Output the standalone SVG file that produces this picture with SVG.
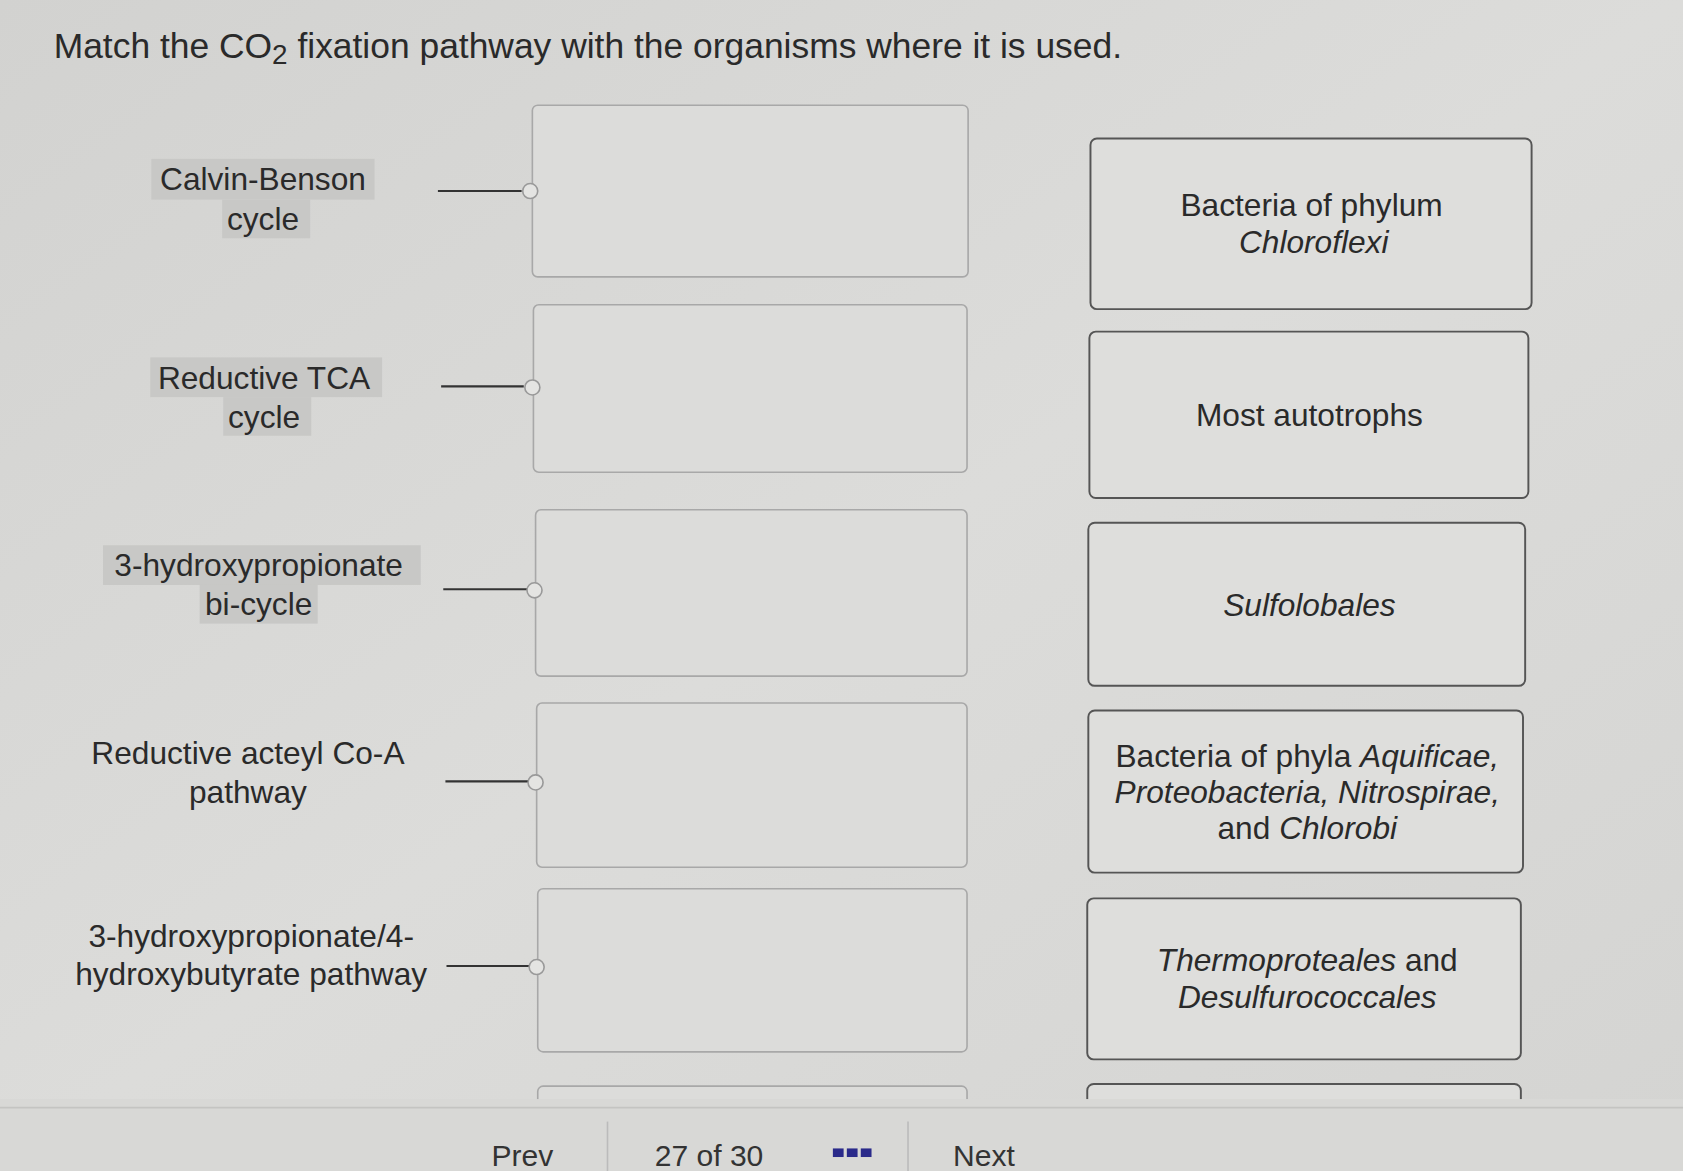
<svg xmlns="http://www.w3.org/2000/svg" width="1683" height="1171" viewBox="0 0 1683 1171">
<defs>
<linearGradient id="bg" x1="0" y1="0" x2="1" y2="1"><stop offset="0" stop-color="#d2d2d0"/><stop offset="0.5" stop-color="#dcdcda"/><stop offset="1" stop-color="#d4d4d2"/></linearGradient>
<style>
text{font-family:"Liberation Sans",Arial,sans-serif;fill:#2a2a2a;font-size:29.5px}
.lbl{text-anchor:middle}
.hl{fill:#c8c8c6}
.drop{fill:#dcdcda;stroke:#a8a8a8;stroke-width:1.5}
.ans{fill:#dededc;stroke:#555;stroke-width:1.8}
.ln{stroke:#333;stroke-width:2}
.dot{fill:#e4e4e2;stroke:#999;stroke-width:1.5}
.it{font-style:italic}
.ft{font-size:28px;fill:#333}
</style>
</defs>
<rect width="1683" height="1171" fill="url(#bg)"/>
<g transform="scale(1.0733)">
<text x="50" y="54" style="font-size:33px">Match the CO<tspan dy="6" style="font-size:26px">2</tspan><tspan dy="-6"> fixation pathway with the organisms where it is used.</tspan></text>
<g id="left1"><rect class="hl" x="141" y="148" width="208" height="38"/><rect class="hl" x="207" y="186" width="82" height="36"/><text class="lbl" x="245" y="177">Calvin-Benson</text><text class="lbl" x="245" y="214">cycle</text></g>
<g id="left2"><rect class="hl" x="140" y="333" width="216" height="37"/><rect class="hl" x="208" y="370" width="82" height="36"/><text class="lbl" x="246" y="362">Reductive TCA</text><text class="lbl" x="246" y="399">cycle</text></g>
<g id="left3"><rect class="hl" x="96" y="508" width="296" height="37"/><rect class="hl" x="186" y="545" width="110" height="36"/><text class="lbl" x="241" y="537">3-hydroxypropionate</text><text class="lbl" x="241" y="573">bi-cycle</text></g>
<g id="left4"><text class="lbl" x="231" y="712">Reductive acteyl Co-A</text><text class="lbl" x="231" y="748">pathway</text></g>
<g id="left5"><text class="lbl" x="234" y="882">3-hydroxypropionate/4-</text><text class="lbl" x="234" y="918">hydroxybutyrate pathway</text></g>
<g id="drop1"><rect class="drop" x="496" y="98" width="406" height="160" rx="5"/></g>
<g id="drop2"><rect class="drop" x="497" y="284" width="404" height="156" rx="5"/></g>
<g id="drop3"><rect class="drop" x="499" y="475" width="402" height="155" rx="5"/></g>
<g id="drop4"><rect class="drop" x="500" y="655" width="401" height="153" rx="5"/></g>
<g id="drop5"><rect class="drop" x="501" y="828" width="400" height="152" rx="5"/></g>
<g id="drop6"><rect class="drop" x="501" y="1012" width="400" height="60" rx="5"/></g>
<g id="connectors">
<line class="ln" x1="408" y1="178" x2="486" y2="178"/><circle class="dot" cx="494" cy="178" r="7"/>
<line class="ln" x1="411" y1="360" x2="488" y2="360"/><circle class="dot" cx="496" cy="361" r="7"/>
<line class="ln" x1="413" y1="549" x2="491" y2="549"/><circle class="dot" cx="498" cy="550" r="7"/>
<line class="ln" x1="415" y1="728" x2="492" y2="728"/><circle class="dot" cx="499" cy="729" r="7"/>
<line class="ln" x1="416" y1="900" x2="493" y2="900"/><circle class="dot" cx="500" cy="901" r="7"/>
</g>
<g id="ans1"><rect class="ans" x="1016" y="129" width="411" height="159" rx="6"/><text class="lbl" x="1222" y="201">Bacteria of phylum</text><text class="lbl it" x="1224" y="236">Chloroflexi</text></g>
<g id="ans2"><rect class="ans" x="1015" y="309" width="409" height="155" rx="6"/><text class="lbl" x="1220" y="397">Most autotrophs</text></g>
<g id="ans3"><rect class="ans" x="1014" y="487" width="407" height="152" rx="6"/><text class="lbl it" x="1220" y="574">Sulfolobales</text></g>
<g id="ans4"><rect class="ans" x="1014" y="662" width="405" height="151" rx="6"/><text class="lbl" x="1218" y="715">Bacteria of phyla <tspan class="it">Aquificae,</tspan></text><text class="lbl it" x="1218" y="748">Proteobacteria, Nitrospirae,</text><text class="lbl" x="1218" y="782">and <tspan class="it">Chlorobi</tspan></text></g>
<g id="ans5"><rect class="ans" x="1013" y="837" width="404" height="150" rx="6"/><text class="lbl" x="1218" y="905"><tspan class="it">Thermoproteales</tspan> and</text><text class="lbl it" x="1218" y="939">Desulfurococcales</text></g>
<g id="ans6"><rect class="ans" x="1013" y="1010" width="404" height="70" rx="6"/></g>
<rect x="0" y="1024" width="1568" height="70" fill="#d8d8d6"/>
<line x1="0" y1="1032" x2="1568" y2="1032" stroke="#c4c4c2" stroke-width="1.5"/>
<line x1="566" y1="1045" x2="566" y2="1091" stroke="#bbb" stroke-width="1.5"/>
<line x1="846" y1="1045" x2="846" y2="1091" stroke="#bbb" stroke-width="1.5"/>
<text class="ft" x="458" y="1086">Prev</text>
<text class="ft" x="610" y="1086">27 of 30</text>
<text class="ft" x="888" y="1086">Next</text>
<g fill="#2a2a8a"><rect x="776" y="1070" width="10" height="8"/><rect x="789" y="1070" width="10" height="8"/><rect x="802" y="1070" width="10" height="8"/></g>
</g>
</svg>
